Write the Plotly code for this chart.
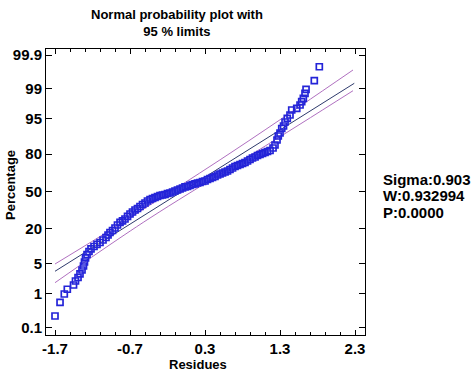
import plotly.graph_objects as go
from statistics import NormalDist

# ---- data ----
residues = [
    -1.700, -1.633, -1.576, -1.536, -1.453, -1.427, -1.393, -1.367, -1.340, -1.320,
    -1.307, -1.293, -1.273, -1.247, -1.220, -1.180, -1.140, -1.100, -1.060,
    -1.020, -0.993, -0.967, -0.933, -0.900, -0.867, -0.833, -0.800, -0.767, -0.733,
    -0.700, -0.667, -0.633, -0.600, -0.567, -0.533, -0.500, -0.467, -0.433, -0.400,
    -0.367, -0.333, -0.300, -0.267, -0.233, -0.200, -0.167, -0.133, -0.100, -0.067,
    -0.033, 0.000, 0.033, 0.067, 0.100, 0.133, 0.167, 0.200, 0.233, 0.267,
    0.300, 0.333, 0.367, 0.400, 0.433, 0.467, 0.500, 0.533, 0.567, 0.600,
    0.633, 0.667, 0.700, 0.733, 0.767, 0.800, 0.833, 0.867, 0.900, 0.933,
    0.967, 1.000, 1.033, 1.067, 1.100, 1.133, 1.167,
    1.207, 1.233, 1.260, 1.277, 1.300, 1.323, 1.347, 1.367, 1.397, 1.433,
    1.456, 1.523, 1.567, 1.589, 1.611, 1.633, 1.647, 1.757, 1.824,
]
normal_scores = [
    -2.828, -2.517, -2.329, -2.222, -2.125, -2.034, -1.955, -1.875, -1.785, -1.694,
    -1.603, -1.512, -1.433, -1.365, -1.308, -1.252, -1.206, -1.161, -1.104,
    -1.048, -0.991, -0.934, -0.889, -0.832, -0.764, -0.707, -0.673, -0.628, -0.571,
    -0.515, -0.469, -0.424, -0.390, -0.345, -0.299, -0.265, -0.220, -0.186, -0.163,
    -0.141, -0.118, -0.095, -0.084, -0.073, -0.050, -0.039, -0.016, 0.007, 0.029,
    0.052, 0.075, 0.098, 0.109, 0.132, 0.154, 0.166, 0.188, 0.200, 0.222,
    0.234, 0.268, 0.290, 0.313, 0.336, 0.370, 0.392, 0.415, 0.438, 0.460,
    0.494, 0.528, 0.562, 0.585, 0.608, 0.630, 0.653, 0.687, 0.721, 0.755,
    0.778, 0.812, 0.834, 0.857, 0.880, 0.902, 0.925,
    0.982, 1.050, 1.163, 1.254, 1.322, 1.424, 1.481, 1.571, 1.655, 1.730,
    1.844, 1.882, 1.957, 2.032, 2.109, 2.222, 2.313, 2.508, 2.825,
]

fit_x = [-1.70, 2.29]
fit_score = [-1.814, 2.449]

band_x = [-1.700, -1.100, -0.433, 0.633, 1.567, 2.273]
upper_score = [-1.649, -1.025, -0.311, 0.862, 1.930, 2.751]
lower_score = [-2.073, -1.365, -0.605, 0.528, 1.522, 2.281]

pct_ticks = [0.1, 1, 5, 20, 50, 80, 95, 99, 99.9]
pct_labels = ["0.1", "1", "5", "20", "50", "80", "95", "99", "99.9"]
x_ticks = [-1.7, -0.7, 0.3, 1.3, 2.3]
x_labels = ["-1.7", "-0.7", "0.3", "1.3", "2.3"]

stats_lines = ["Sigma:0.903", "W:0.932994", "P:0.0000"]

FONT = "Liberation Sans, Arial, sans-serif"

fig = go.Figure()
fig.add_trace(go.Scatter(x=band_x, y=upper_score, mode="lines", line=dict(color="#b070c0", width=1, shape="spline"), hoverinfo="skip"))
fig.add_trace(go.Scatter(x=band_x, y=lower_score, mode="lines", line=dict(color="#b070c0", width=1, shape="spline"), hoverinfo="skip"))
fig.add_trace(go.Scatter(x=fit_x, y=fit_score, mode="lines", line=dict(color="#2e3a6c", width=1), hoverinfo="skip"))
fig.add_trace(go.Scatter(x=residues, y=normal_scores, mode="markers",
                         marker=dict(symbol="square-open", size=6, color="#2424d8", line=dict(width=1.7, color="#2424d8"))))

ytickvals = [NormalDist().inv_cdf(p / 100) for p in pct_ticks]

fig.update_layout(
    width=474, height=373,
    margin=dict(l=46, r=109, t=49, b=38, autoexpand=False),
    paper_bgcolor="white", plot_bgcolor="white",
    showlegend=False,
    font=dict(family=FONT, color="black"),
    xaxis=dict(range=[-1.82, 2.433], tickvals=x_ticks, ticktext=["<b>%s</b>" % t for t in x_labels],
               ticks="inside", ticklen=5, tickcolor="black", showline=True, linecolor="black", linewidth=1,
               mirror="ticks", showgrid=False, zeroline=False, tickfont=dict(size=15, family=FONT),
               automargin=False,
               minor=dict(tick0=-1.7, dtick=0.2, ticks="inside", ticklen=3, tickcolor="black", showgrid=False)),
    yaxis=dict(range=[-3.259, 3.227], tickvals=ytickvals, ticktext=["<b>%s</b>" % t for t in pct_labels],
               ticks="inside", ticklen=6, tickcolor="black", showline=True, linecolor="black", linewidth=1,
               mirror="ticks", showgrid=False, zeroline=False, tickfont=dict(size=15, family=FONT),
               automargin=False),
)

ann = []
ann.append(dict(text="<b>Normal probability plot with<br>95 % limits</b>", x=(177 - 46) / 319, y=1 + (49 - 23) / 286,
                xref="paper", yref="paper", showarrow=False, xanchor="center", yanchor="middle",
                font=dict(size=13, family=FONT, color="black")))
ann.append(dict(text="<b>Percentage</b>", x=(10 - 46) / 319, y=1 - (185 - 49) / 286, textangle=-90,
                xref="paper", yref="paper", showarrow=False, xanchor="center", yanchor="middle",
                font=dict(size=13, family=FONT, color="black")))
ann.append(dict(text="<b>Residues</b>", x=(198 - 46) / 319, y=1 - (365 - 49) / 286,
                xref="paper", yref="paper", showarrow=False, xanchor="center", yanchor="middle",
                font=dict(size=13, family=FONT, color="black")))
for i, line in enumerate(stats_lines):
    ypx = 179 + i * 16.5
    ann.append(dict(text="<b>%s</b>" % line, x=(381 - 46) / 319, y=1 - (ypx - 49) / 286,
                    xref="paper", yref="paper", showarrow=False, xanchor="left", yanchor="middle",
                    font=dict(size=15, family=FONT, color="black")))
fig.update_layout(annotations=ann)

fig.write_html("out.html", config={"displayModeBar": False},
               post_script="document.body.style.margin='0';document.body.style.padding='0';")
